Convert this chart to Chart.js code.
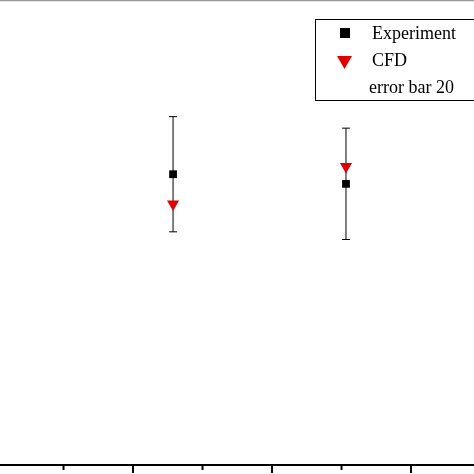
<!DOCTYPE html>
<html><head><meta charset="utf-8">
<script src="https://cdn.jsdelivr.net/npm/chart.js@4/dist/chart.umd.min.js"></script>
<style>html,body{margin:0;padding:0;background:#fff;overflow:hidden}#w{position:absolute;left:0;top:0;width:474px;height:474px}</style>
</head><body><div id="w"><canvas id="c"></canvas></div>
<script>
const xPos = [-1.0, 0.288, 1.532];
const expY = [1.5, 2.06, 1.96];
const expErr = [0.5, 0.6, 0.58];
const cfdY = [1.42, 1.75, 2.14];
const majorTicks = [-1, 0, 1, 2];
const minorTicks = [-0.5, 0.5, 1.5];
const legendLabels = ["Experiment", "CFD", "error bar 20"];

const deco = {
  id: 'deco',
  beforeDatasetsDraw(ch) {
    const c = ch.ctx, x = ch.scales.x, y = ch.scales.y, a = ch.chartArea;
    c.save();
    c.strokeStyle = '#000'; c.lineWidth = 1;
    xPos.forEach((v, i) => {
      const px = x.getPixelForValue(v);
      const t = y.getPixelForValue(expY[i] + expErr[i]), b = y.getPixelForValue(expY[i] - expErr[i]);
      c.beginPath();
      c.moveTo(px, t); c.lineTo(px, b);
      c.moveTo(px - 4, t); c.lineTo(px + 4, t);
      c.moveTo(px - 4, b); c.lineTo(px + 4, b);
      c.stroke();
    });
    c.lineWidth = 2;
    c.beginPath(); c.moveTo(a.left, a.bottom); c.lineTo(a.right, a.bottom); c.stroke();
    majorTicks.forEach(v => { const px = x.getPixelForValue(v); c.beginPath(); c.moveTo(px, a.bottom); c.lineTo(px, a.bottom + 8); c.stroke(); });
    minorTicks.forEach(v => { const px = x.getPixelForValue(v); c.beginPath(); c.moveTo(px, a.bottom); c.lineTo(px, a.bottom + 5); c.stroke(); });
    c.strokeStyle = '#999'; c.lineWidth = 1.5;
    c.beginPath(); c.moveTo(a.left, 0.5); c.lineTo(a.right, 0.5); c.stroke();
    c.restore();
  },
  afterDraw(ch) {
    const c = ch.ctx;
    c.save();
    c.fillStyle = '#fff'; c.fillRect(315, 19, 170, 81);
    c.strokeStyle = '#000'; c.lineWidth = 1; c.strokeRect(315.5, 19.5, 170, 81);
    c.fillStyle = '#000'; c.fillRect(340, 28, 10, 10);
    c.fillStyle = '#e00000';
    c.beginPath(); c.moveTo(337, 56); c.lineTo(352, 56); c.lineTo(344.5, 69); c.closePath(); c.fill();
    c.fillStyle = '#000'; c.font = '18px "Liberation Serif"'; c.textBaseline = 'middle';
    c.fillText(legendLabels[0], 372, 34);
    c.fillText(legendLabels[1], 372, 61);
    c.fillText(legendLabels[2], 369, 88);
    c.restore();
  }
};

new Chart(document.getElementById('c'), {
  type: 'scatter',
  data: { datasets: [
    { label: legendLabels[0], data: xPos.map((v, i) => ({x: v, y: expY[i]})), pointStyle: 'rect', pointRadius: 5.5, backgroundColor: '#000', borderColor: '#000', borderWidth: 0, clip: false },
    { label: legendLabels[1], data: xPos.map((v, i) => ({x: v, y: cfdY[i]})), pointStyle: 'triangle', rotation: 180, pointRadius: 7, backgroundColor: '#e00000', borderColor: '#e00000', borderWidth: 0, clip: false }
  ]},
  options: {
    responsive: true, maintainAspectRatio: false, animation: false,
    layout: { autoPadding: false, padding: { left: 0, right: 0, top: 0, bottom: 9 } },
    plugins: { legend: { display: false }, tooltip: { enabled: false } },
    scales: {
      x: { type: 'linear', min: -0.957, max: 2.453, display: false },
      y: { type: 'linear', min: -0.969, max: 3.875, display: false }
    }
  },
  plugins: [deco]
});
</script></body></html>
